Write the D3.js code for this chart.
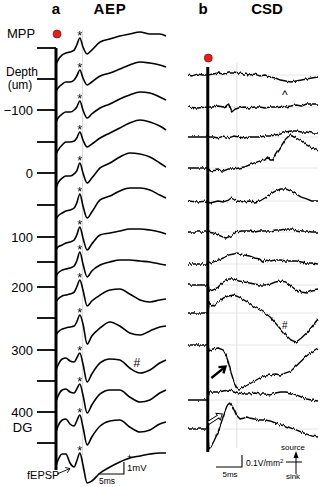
<!DOCTYPE html>
<html>
<head>
<meta charset="utf-8">
<script src="https://cdn.jsdelivr.net/npm/d3@7"></script>
<style>
body { margin: 0; background: #fff; }
svg { display: block; font-family: "Liberation Sans", Arial, sans-serif; }
</style>
</head>
<body>
<svg width="320" height="487"></svg>
<script>
// **** data ****

// recording depths (um) of the AEP channels, MPP at top, DG at bottom
var depths = [-200, -150, -100, -50, 0, 50, 100, 150, 200, 250, 300, 350, 400, 450];
var depthTicks = [-100, 0, 100, 200, 300, 400];

// AEP: time (ms) after stimulus, value in mV relative to channel baseline
var aepTimes = [0, 0.4, 1.2, 1.9, 2.7, 3.5, 4.0, 4.6, 5.2, 6.0, 6.9, 8.5, 10.4, 12.3, 14.2, 16.2, 18.1, 20.0, 21.2];
var aepTraces = [
  [-1.33,-1,-0.58,-0.42,-0.33,-0.17,0.25,0.83,0.08,-0.5,-0.17,0.5,0.75,1,1.17,1.33,1.17,1.17,1],
  [-1,-0.75,-0.42,-0.25,-0.25,-0.08,0.25,0.75,0.08,-0.5,-0.25,0.25,0.5,0.83,1.17,1.42,1.33,1.17,1],
  [-1,-0.67,-0.33,-0.17,-0.17,0,0.25,0.75,0,-0.67,-0.33,0.17,0.5,0.92,1.25,1.5,1.42,1.08,0.83],
  [-1,-0.67,-0.25,0,0,0.08,0.33,0.83,0.17,-0.42,-0.17,0.33,0.75,1.17,1.58,1.83,1.67,1.33,1],
  [-1.25,-0.83,-0.42,-0.25,-0.25,-0.08,0.17,0.83,0,-0.83,-0.42,0.42,0.83,1.33,1.67,1.58,1.33,0.83,0.5],
  [-1.17,-0.92,-0.67,-0.5,-0.42,-0.25,0.17,0.92,-0.08,-1.08,-0.58,0.42,0.75,1.17,1.42,1.42,1.25,0.83,0.58],
  [-1.08,-0.83,-0.67,-0.5,-0.42,-0.25,0.17,0.83,-0.08,-1.08,-0.58,0.17,0.33,0.5,0.67,0.67,0.58,0.42,0.25],
  [-1.17,-0.92,-0.67,-0.58,-0.5,-0.33,0.08,0.83,-0.17,-1.25,-0.75,-0.25,0,0.17,0.17,0.08,0,-0.17,-0.25],
  [-1.25,-1,-0.75,-0.67,-0.58,-0.42,0,0.58,-0.25,-1.58,-1.17,-0.67,-0.25,-0.17,-0.58,-1.08,-1.25,-1.08,-1],
  [-1.42,-1.17,-0.92,-0.83,-0.75,-0.67,-0.33,0.25,-0.5,-2.17,-1.5,-0.83,-0.33,-0.67,-1.25,-1.42,-1.08,-0.75,-0.67],
  [-1.67,-1.25,-0.75,-0.67,-0.92,-1,-0.67,-0.25,-1.17,-2.67,-2,-1.08,-0.75,-0.83,-1.5,-1.92,-1.67,-1.08,-0.83],
  [-1.75,-1.25,-0.75,-0.67,-0.92,-1,-0.67,-0.25,-1.17,-2.67,-2,-1.08,-0.75,-0.75,-1.33,-1.75,-1.58,-1,-0.75],
  [-1.67,-1.17,-0.67,-0.58,-1,-1.17,-0.75,-0.25,-1.25,-2.75,-2.08,-1.17,-0.75,-0.67,-1.25,-1.67,-1.5,-1,-0.83],
  [-1.92,-1.42,-0.92,-0.92,-1.67,-2,-1.5,-0.83,-1.83,-3.33,-3.17,-2.5,-2,-1.58,-1.25,-1.08,-0.92,-0.83,-0.83]
];

// CSD: [time ms, V/mm2] per channel (source positive)
var csdChannels = d3.range(12);
var csdTraces = [
  [[-3.8,0],[-3,-0.008],[-2,0.008],[-1,0],[0,0],[1,0.008],[2,0.017],[3,0.008],[4,0.025],[5,0.025],[6,0.017],[7,0.008],[8,0],[9,0.008],[10,-0.008],[11,0],[12,-0.017],[13,-0.025],[14,-0.042],[15,-0.05],[16,-0.058],[17,-0.05],[18,-0.042],[19,-0.033],[20,-0.025],[21.2,-0.017]],
  [[-3.8,0],[-2,-0.008],[0,0],[1,0],[2,0.008],[3,0],[3.5,0.008],[4,0.025],[4.6,-0.042],[5.3,-0.017],[6,-0.008],[7,0],[8,-0.008],[9,0],[10,0],[11,-0.008],[12,0],[13,0],[14,0.008],[15,0],[16,0.008],[17,0.017],[18,0.008],[19,0.025],[20,0.025],[21.2,0.025]],
  [[-3.8,0],[-2,0],[0,0],[1,0],[2,-0.008],[3,0.008],[4,-0.008],[5,0.008],[6,0],[7,-0.008],[8,0],[9,0],[10,0],[11,0.008],[12,0.008],[13,0.017],[14,0.025],[15,0.042],[16,0.05],[17,0.05],[18,0.042],[19,0.042],[20,0.033],[21.2,0.033]],
  [[-3.8,0],[-2,0],[0,0],[0.5,-0.025],[2,-0.017],[3,-0.025],[4,-0.008],[5,-0.008],[6,0],[7,0.008],[8,0.025],[9,0.042],[10,0.058],[11,0.067],[11.5,0.092],[12,0.067],[12.5,0.067],[13,0.108],[14,0.175],[15,0.242],[15.8,0.275],[17,0.25],[18,0.225],[19,0.192],[20,0.167],[21.2,0.142]],
  [[-3.8,0],[-2,-0.008],[0,0],[0.4,-0.017],[2,0],[3,-0.008],[4,0.008],[4.5,0.025],[5.5,0],[7,-0.008],[8,0],[9,-0.008],[10,0],[11,0.025],[12,0.058],[13,0.083],[14,0.1],[15,0.1],[16,0.083],[17,0.058],[18,0.033],[19,0.017],[20,0],[21.2,0]],
  [[-3.8,0],[-2,0],[0,0],[1,-0.008],[2,-0.025],[3,-0.042],[3.5,-0.05],[4.5,-0.033],[5.5,0],[6.5,0.008],[8,0.008],[9,0],[10,0.008],[11,0.008],[12,0.008],[13,0.017],[14,0.017],[15,0.025],[16,0.025],[17,0.017],[18,0.008],[19,0.008],[20,0],[21.2,0]],
  [[-3.8,0],[-2,0],[0,0],[0.5,0.008],[2,0.033],[3,0.05],[4,0.075],[5,0.083],[5.6,0.092],[7,0.075],[8,0.067],[9,0.05],[10,0.042],[10.5,0.017],[11,0.033],[12,0.025],[13,0.033],[14,0.033],[15,0.025],[16,0.025],[17,0.025],[18,0.017],[19,0.008],[20,0.008],[21.2,0]],
  [[-3.8,0],[-2,0],[0,0],[0.3,-0.05],[1,-0.042],[2,-0.017],[3,0.025],[4,0.05],[5,0.05],[6,0.033],[7,0.025],[8,0.017],[9,0.008],[10,0],[11,0],[12,0.008],[13,0.025],[14,0.033],[15,0.025],[16,-0.008],[17,-0.042],[18,-0.058],[19,-0.067],[20,-0.05],[21.2,-0.042]],
  [[-3.8,0],[-2,0],[0,0],[0.3,0.083],[1,0.058],[2,0.092],[3,0.125],[4,0.142],[5,0.15],[6,0.133],[7,0.108],[8,0.083],[9,0.05],[10,0.025],[11,0],[12,-0.033],[13,-0.083],[14,-0.133],[15,-0.183],[16,-0.225],[17,-0.242],[18,-0.208],[19,-0.167],[20,-0.117],[21.2,-0.05]],
  [[-3.8,0],[-2,0],[0,0],[0.3,-0.05],[1,-0.033],[2,-0.025],[3,-0.042],[3.5,-0.083],[4,-0.15],[4.5,-0.233],[5,-0.3],[5.5,-0.35],[6,-0.367],[7,-0.35],[8,-0.325],[9,-0.3],[10,-0.275],[11,-0.258],[12,-0.25],[13,-0.242],[14,-0.25],[15,-0.233],[16,-0.217],[17,-0.175],[18,-0.133],[19,-0.092],[20,-0.058],[21.2,-0.025]],
  [[-3.8,0],[-2,0],[0,0],[0.3,0.067],[1,0.067],[2,0.067],[3,0.075],[4,0.083],[5,0.075],[6,0.058],[7,0.05],[8,0.05],[9,0.058],[10,0.05],[11,0.05],[12,0.042],[13,0.058],[14,0.067],[15,0.067],[16,0.058],[17,0.042],[18,0.025],[19,0.008],[20,0],[21.2,-0.008]],
  [[-3.8,0],[-2,0],[0,0],[0.2,-0.167],[0.6,-0.15],[1.2,-0.1],[2,-0.025],[2.7,0.067],[3.3,0.15],[3.8,0.2],[4.2,0.217],[4.8,0.183],[5.5,0.117],[6.2,0.083],[7,0.092],[7.5,0.1],[8,0.092],[9,0.083],[10,0.075],[11,0.075],[12,0.067],[13,0.05],[14,0.033],[15,0.025],[16,0.008],[17,-0.008],[18,-0.025],[19,-0.042],[20,-0.058],[21.2,-0.067]]
];

// **** scales ****
var svg = d3.select('svg');

var xA = d3.scaleLinear().domain([0, 21.2]).range([56, 166]);
var depthScale = d3.scaleOrdinal().domain(depths)
    .range([48, 79, 110, 142, 173, 205, 237, 262, 287, 318, 350, 381, 412, 443]);
var mvScale = d3.scaleLinear().domain([0, 1]).range([0, -12]);

var xB = d3.scaleLinear().domain([-3.8, 21.2]).range([188, 318]);
var csdScale = d3.scaleOrdinal().domain(csdChannels)
    .range([75, 107, 137, 168, 201, 232, 264, 285, 313, 345, 400, 429]);
var csdAmp = d3.scaleLinear().domain([0, 0.1]).range([0, -12]);

// **** panel titles ****
svg.append('text').text('a').attr('x', 56).attr('y', 14)
    .attr('text-anchor', 'middle').style('font-size', '15px').style('font-weight', 'bold');
svg.append('text').text('AEP').attr('x', 110).attr('y', 14)
    .attr('text-anchor', 'middle').style('font-size', '15px').style('font-weight', 'bold')
    .style('letter-spacing', '0.8px');
svg.append('text').text('b').attr('x', 203).attr('y', 14)
    .attr('text-anchor', 'middle').style('font-size', '15px').style('font-weight', 'bold');
svg.append('text').text('CSD').attr('x', 267).attr('y', 14)
    .attr('text-anchor', 'middle').style('font-size', '15px').style('font-weight', 'bold');

// **** panel a ****
// faint time marker
svg.append('line').attr('x1', xA(5.1)).attr('x2', xA(5.1)).attr('y1', 30).attr('y2', 470)
    .attr('stroke', '#dcdcdc').attr('stroke-width', 1);

// depth axis ticks
svg.append('g').selectAll('line').data(depths).join('line')
    .attr('x1', 37).attr('x2', 56)
    .attr('y1', d => depthScale(d)).attr('y2', d => depthScale(d))
    .attr('stroke', '#000').attr('stroke-width', 1.8);

svg.append('g').selectAll('text').data(depthTicks).join('text')
    .text(d => d < 0 ? '\u2212' + Math.abs(d) : d)
    .attr('x', 33).attr('y', d => depthScale(d)).attr('dy', '0.36em')
    .attr('text-anchor', 'end').style('font-size', '13px');

svg.append('text').text('MPP').attr('x', 21).attr('y', depthScale(-200) - 10)
    .attr('text-anchor', 'middle').style('font-size', '13px');
svg.append('text').text('Depth').attr('x', 22).attr('y', 76)
    .attr('text-anchor', 'middle').style('font-size', '12px');
svg.append('text').text('(um)').attr('x', 20).attr('y', 89)
    .attr('text-anchor', 'middle').style('font-size', '12px');
svg.append('text').text('DG').attr('x', 22.5).attr('y', depthScale(400) + 20)
    .attr('text-anchor', 'middle').style('font-size', '13px');

var aepLine = function(base) {
  return d3.line()
    .x((d, i) => xA(aepTimes[i]))
    .y(d => base + mvScale(d))
    .curve(d3.curveMonotoneX);
};

aepTraces.forEach(function(tr, k) {
  var base = depthScale(depths[k]);
  svg.append('path').attr('d', aepLine(base)(tr))
      .attr('fill', 'none').attr('stroke', '#000').attr('stroke-width', 1.6)
      .attr('stroke-linejoin', 'round');

  // star over the population spike
  var win = d3.range(aepTimes.length).filter(i => aepTimes[i] >= 4 && aepTimes[i] <= 5.5);
  var pk = d3.greatest(win, i => tr[i]);
  svg.append('text').text('*')
      .attr('x', xA(aepTimes[pk])).attr('y', base + mvScale(tr[pk]) + 2)
      .attr('text-anchor', 'middle').style('font-size', '13px')
      .style('opacity', 0.99);
});

// stimulus artifact line
svg.append('line').attr('x1', xA(0)).attr('x2', xA(0))
    .attr('y1', depthScale(-200)).attr('y2', 470)
    .attr('stroke', '#000').attr('stroke-width', 3);

svg.append('circle').attr('cx', xA(0.2)).attr('cy', 34).attr('r', 4)
    .attr('fill', '#ee1b1b').attr('stroke', '#7a0a0a').attr('stroke-width', 0.7);

svg.append('text').text('#').attr('x', xA(15.6)).attr('y', depthScale(300) + 17)
    .attr('text-anchor', 'middle').style('font-size', '12px');

// fEPSP label and arrow
svg.append('text').text('fEPSP').attr('x', 27).attr('y', 479).style('font-size', '11px');
function arrow(x1, y1, x2, y2, w, head) {
  var a = Math.atan2(y2 - y1, x2 - x1);
  svg.append('line').attr('x1', x1).attr('y1', y1).attr('x2', x2).attr('y2', y2)
      .attr('stroke', '#000').attr('stroke-width', w);
  svg.append('path')
      .attr('d', d3.line()([
        [x2 - head * Math.cos(a - 0.6), y2 - head * Math.sin(a - 0.6)],
        [x2, y2],
        [x2 - head * Math.cos(a + 0.6), y2 - head * Math.sin(a + 0.6)]]))
      .attr('fill', 'none').attr('stroke', '#000').attr('stroke-width', w);
}
arrow(xA(0.2), depthScale(450) + mvScale(-2.58), xA(2.7), depthScale(450) + mvScale(-2.13), 0.9, 5);

// scale bar a
var sbx = 98, sby = 474;
svg.append('path')
    .attr('d', d3.line()([[sbx, sby], [sbx + xA(5) - xA(0), sby],
                          [sbx + xA(5) - xA(0), sby + mvScale(1)]]))
    .attr('fill', 'none').attr('stroke', '#000').attr('stroke-width', 1.1);
svg.append('text').text('+').attr('x', 129.5).attr('y', 459.5)
    .attr('text-anchor', 'middle').style('font-size', '8.5px');
svg.append('text').text('1mV').attr('x', 127).attr('y', 471).style('font-size', '9.5px');
svg.append('text').text('5ms').attr('x', 107).attr('y', 484)
    .attr('text-anchor', 'middle').style('font-size', '8.5px');

// **** panel b ****
var defs = svg.append('defs');
var flt = defs.append('filter').attr('id', 'jitter')
    .attr('filterUnits', 'userSpaceOnUse')
    .attr('x', 180).attr('y', 40).attr('width', 145).attr('height', 440)
    .attr('color-interpolation-filters', 'sRGB');
flt.append('feTurbulence').attr('type', 'fractalNoise')
    .attr('baseFrequency', '0.55 0.05').attr('numOctaves', 2).attr('seed', 4)
    .attr('result', 'noise');
flt.append('feColorMatrix').attr('in', 'noise').attr('type', 'matrix')
    .attr('values', '0 0 0 0 0.5  0 1 0 0 0  0 0 0 0 0  0 0 0 0 1')
    .attr('result', 'n2');
flt.append('feDisplacementMap').attr('in', 'SourceGraphic').attr('in2', 'n2')
    .attr('scale', 4).attr('xChannelSelector', 'R').attr('yChannelSelector', 'G');

// faint grid
svg.append('g').selectAll('line').data(csdChannels).join('line')
    .attr('x1', xB(0.3)).attr('x2', xB(21.2))
    .attr('y1', d => csdScale(d)).attr('y2', d => csdScale(d))
    .attr('stroke', '#e4e8e6').attr('stroke-width', 1);
svg.append('line').attr('x1', xB(5.6)).attr('x2', xB(5.6)).attr('y1', 62).attr('y2', 448)
    .attr('stroke', '#e6dcdc').attr('stroke-width', 1);

var csdLine = function(base) {
  return d3.line().x(d => xB(d[0])).y(d => base + csdAmp(d[1]));
};
var csdG = svg.append('g').attr('filter', 'url(#jitter)');
csdTraces.forEach(function(tr, k) {
  csdG.append('path').attr('d', csdLine(csdScale(k))(tr))
      .attr('fill', 'none').attr('stroke', '#000').attr('stroke-width', 1.4)
      .attr('stroke-linejoin', 'round');
});

svg.append('line').attr('x1', xB(0)).attr('x2', xB(0)).attr('y1', 67).attr('y2', 452)
    .attr('stroke', '#000').attr('stroke-width', 3);
svg.append('circle').attr('cx', xB(0.1)).attr('cy', 58).attr('r', 4)
    .attr('fill', '#ee1b1b').attr('stroke', '#7a0a0a').attr('stroke-width', 0.7);

svg.append('text').text('^').attr('x', xB(14.8)).attr('y', csdScale(0) + 24)
    .attr('text-anchor', 'middle').style('font-size', '12px');
svg.append('text').text('#').attr('x', xB(14.8)).attr('y', csdScale(8) + 15.5)
    .attr('text-anchor', 'middle').style('font-size', '10px');

// sink arrow on channel 10
arrow(xB(0.7), csdScale(9) + csdAmp(-0.275), xB(3.4), csdScale(9) + csdAmp(-0.18), 2.4, 7);

// hollow arrow on channel 12
(function() {
  var x1 = xB(0.1), y1 = csdScale(11) + csdAmp(0.05);
  var x2 = xB(2.8), y2 = csdScale(11) + csdAmp(0.125);
  var a = Math.atan2(y2 - y1, x2 - x1), L = Math.hypot(x2 - x1, y2 - y1);
  var pts = [[0, -1.5], [L - 5, -1.5], [L - 5, -4], [L, 0], [L - 5, 4], [L - 5, 1.5], [0, 1.5]];
  svg.append('path')
      .attr('d', d3.line()(pts) + 'Z')
      .attr('transform', 'translate(' + x1 + ',' + y1 + ') rotate(' + (a * 180 / Math.PI) + ')')
      .attr('fill', '#fff').attr('stroke', '#000').attr('stroke-width', 0.9);
})();

// scale bar b
var bx = 216, by = 467;
svg.append('path')
    .attr('d', d3.line()([[bx, by], [bx + xB(5) - xB(0), by],
                          [bx + xB(5) - xB(0), by + csdAmp(0.1)]]))
    .attr('fill', 'none').attr('stroke', '#000').attr('stroke-width', 1.1);
var tb = svg.append('text').attr('x', 246).attr('y', 466).style('font-size', '8.5px');
tb.append('tspan').text('0.1V/mm');
tb.append('tspan').text('2').attr('dy', -3).style('font-size', '6px');
svg.append('text').text('5ms').attr('x', 230).attr('y', 477)
    .attr('text-anchor', 'middle').style('font-size', '8px');

// source / sink
svg.append('text').text('source').attr('x', 293).attr('y', 450)
    .attr('text-anchor', 'middle').style('font-size', '8px');
svg.append('text').text('sink').attr('x', 293).attr('y', 479)
    .attr('text-anchor', 'middle').style('font-size', '8px');
svg.append('line').attr('x1', 296).attr('x2', 296).attr('y1', 456).attr('y2', 474)
    .attr('stroke', '#000').attr('stroke-width', 1);
svg.append('path').attr('d', d3.line()([[296, 451], [293.5, 458], [298.5, 458]]) + 'Z')
    .attr('fill', '#000');
svg.append('line').attr('x1', 286).attr('x2', 302).attr('y1', 462).attr('y2', 462)
    .attr('stroke', '#000').attr('stroke-width', 1);
</script>
</body>
</html>
